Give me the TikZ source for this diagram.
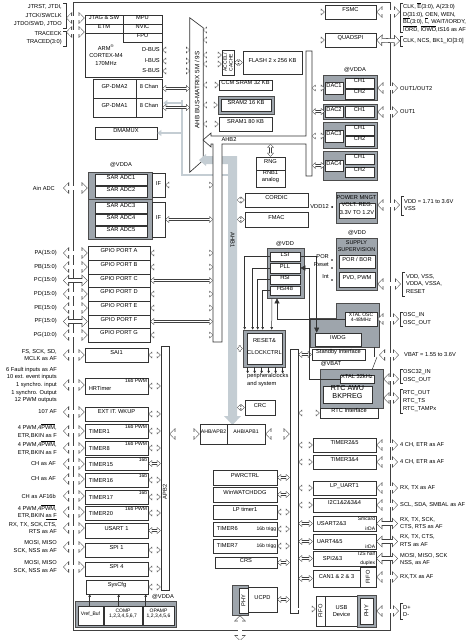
\documentclass[tikz,border=0pt]{standalone}
\usepackage{fontspec}
\setmainfont{Liberation Sans}
\usetikzlibrary{arrows.meta, fit}

\definecolor{contgray}{RGB}{158,165,172}
\definecolor{busgray}{RGB}{196,205,211}
\newcommand{\fsz}{\fontsize{5.7}{7.6}\selectfont}
\newcommand{\fss}{\fontsize{5}{5.6}\selectfont}
\newcommand{\ovl}[1]{$\overline{\mbox{#1}}$}

\tikzset{
  box/.style={draw=black!80, fill=white, line width=0.65pt, inner sep=0pt, align=center},
  gbox/.style={draw=black!70, fill=contgray, line width=0.7pt, inner sep=0pt},
  lbl/.style={inner sep=0pt, align=right, anchor=east},
  rlbl/.style={inner sep=0pt, align=left, anchor=west},
  bigarr/.style={draw=white, line width=3.3pt,
    {Triangle[length=4.3pt, width=9pt]}-{Triangle[length=4.3pt, width=9pt]},
    shorten <=0.9pt, shorten >=0.9pt,
    preaction={draw=black!75, line width=4.5pt, shorten <=0pt, shorten >=0pt,
      {Triangle[length=6pt, width=11.5pt]}-{Triangle[length=6pt, width=11.5pt]}}},
  smarr/.style={draw=white, line width=1.9pt,
    {Triangle[length=2.6pt, width=4.8pt]}-{Triangle[length=2.6pt, width=4.8pt]},
    shorten <=0.7pt, shorten >=0.7pt,
    preaction={draw=black!75, line width=2.9pt, shorten <=0pt, shorten >=0pt,
      {Triangle[length=3.7pt, width=6.6pt]}-{Triangle[length=3.7pt, width=6.6pt]}}},
  smto/.style={draw=white, line width=1.9pt, -{Triangle[length=2.6pt, width=4.8pt]},
    shorten >=0.7pt,
    preaction={draw=black!75, line width=2.9pt, shorten >=0pt,
      -{Triangle[length=3.7pt, width=6.6pt]}}},
  gline/.style={draw=busgray, line width=2.4pt},
  clk/.style={draw=black!80, line width=0.5pt, -{Triangle[length=2.5pt, width=2.5pt]}},
  fat/.style={draw=black!80, line width=0.5pt, -{Triangle[length=5pt, width=5pt]}},
  brk/.style={draw=black!80, line width=0.5pt},
  nm/.style={anchor=west, inner sep=0pt, xshift=4pt},
  tgr/.style={anchor=north east, inner sep=1pt, font=\fss},
  tgb/.style={anchor=south east, inner sep=1pt, font=\fss},
  tge/.style={anchor=east, inner sep=1pt, font=\fss}
}

\begin{document}
\begin{tikzpicture}[x=1pt, y=-1pt, font=\fsz]
    \useasboundingbox (0,0) rectangle (474,640);

    % Frame
    \draw[black!75, line width=0.7pt] (73,2) rectangle (390,630);

    % Core
    \node[box, fit={(85,15) (162,77)}] (cpu) {};
    \node[box, fit={(85,15) (123,24)}] (jtag) {JTAG \& SW};
    \node[box, fit={(85,24) (123,33)}] (etm) {ETM};
    \node[box, fit={(123,15) (162,24)}] (mpu) {MPU};
    \node[box, fit={(123,24) (162,33)}] (nvic) {NVIC};
    \node[box, fit={(123,33) (162,42)}] (fpu) {FPU};
    \node[align=center, inner sep=0pt] (arm) at (106,55) {ARM\textsuperscript{\textregistered}\\CORTEX-M4\\170MHz};
    \node[lbl] (dbus) at (160,50) {D-BUS};
    \node[lbl] (ibus) at (160,61) {I-BUS};
    \node[lbl] (sbus) at (160,71) {S-BUS};

    % JTAG pins
    \node[lbl] (jt1) at (62,7) {JTRST, JTDI,};
    \node[lbl] (jt2) at (62,15) {JTCK/SWCLK};
    \node[lbl] (jt3) at (62,24) {JTDO/SWD, JTDO};
    \node[lbl] (jt4) at (62,34) {TRACECK};
    \node[lbl] (jt5) at (62,42) {TRACED(3:0)};
    \draw[brk] (63,3) -- (66,3) -- (66,28) -- (63,28);
    \draw[brk] (63,31) -- (66,31) -- (66,46) -- (63,46);
    \coordinate (jtagio) at (66,18);
    \coordinate (traceio) at (66,32);

    % DMA
    \node[box, fit={(93,79) (136,98)}] (dma2) {GP-DMA2};
    \node[box, fit={(136,79) (162,98)}] (chan2) {8 Chan};
    \node[box, fit={(93,98) (136,117)}] (dma1) {GP-DMA1};
    \node[box, fit={(136,98) (162,117)}] (chan1) {8 Chan};
    \node[box, fit={(95,127) (157,139)}] (dmamux) {DMAMUX};

    % Bus matrix
    \node[fit={(190,18) (203,172)}, inner sep=0pt] (mtx) {};
    \draw[black!80, fill=white, line width=0.65pt] (mtx.north west) -- ([yshift=-10pt]mtx.north east) -- ([yshift=12pt]mtx.south east) -- (mtx.south west) -- cycle;
    \node[rotate=90, inner sep=0pt, font=\fontsize{6.3}{7}\selectfont] at (197,90) {AHB BUS-MATRIX 5M / 9S};

    % AHB1 (gray)
    \draw[gline] (182,100) -- (182,175) -- (229,175);
    \draw[gline, -{Triangle[length=4pt, width=6pt]}] (182,133) -- (dmamux.east);
    \draw[gline, -{Triangle[length=4pt, width=6pt]}] (182,103) -- ([xshift=1pt]chan1.east |- 0,103);
    \fill[busgray] (199,160) -- (206,154) -- (206,156) -- (237,156) -- (237,416) -- (241,416) -- (232.5,425) -- (224,416) -- (228,416) -- (228,164) -- (206,164) -- (206,166) -- cycle;
    \node[rotate=-90, inner sep=0pt] at (232.5,240) {AHB1};

    % AHB2 (hollow)
    \draw[black!80, fill=white, line width=0.65pt] (203,140) -- (211,133) -- (211,136) -- (306,136) -- (306,51) -- (312,51) -- (312,176) -- (306,176) -- (306,144) -- (222,144) -- (222,342) -- (213,342) -- (213,144) -- (211,144) -- (211,147) -- cycle;
    \node[inner sep=0pt] at (229,140) {AHB2};
    \coordinate (ahb2v) at (213,250);
    \coordinate (ahb2r) at (312,100);
    \coordinate (ahb2h) at (270.5,144);
    \coordinate (ahb1) at (237,300);

    % Core buses
    \draw[smarr] (cpu.east |- dbus) -- (mtx.west |- dbus);
    \draw[smarr] (cpu.east |- ibus) -- (mtx.west |- ibus);
    \draw[smarr] (cpu.east |- sbus) -- (mtx.west |- sbus);
    \draw[smarr] (chan2.east) -- (mtx.west |- chan2.east);
    \draw[smarr] (chan1.east) -- (mtx.west |- chan1.east);

    % Memories
    \node[box, fit={(325,5) (376,19)}] (fsmc) {FSMC};
    \node[box, fit={(325,33) (376,47)}] (qspi) {QUADSPI};
    \draw[smarr] (mtx.east |- 0,30) -- (283,30) -- (283,12) -- (fsmc.west |- 0,12);
    \draw[smarr] (mtx.east |- qspi) -- (qspi.west);
    \node[box, fit={(222,50) (234,75)}] (cache) {};
    \node[rotate=90, align=center, inner sep=0pt, font=\fss] at (cache) {ACCEL/\\CACHE};
    \node[box, fit={(243,51) (302,74)}] (flash) {FLASH 2 x 256 KB};
    \draw[smarr] (cache.east) -- (flash.west);
    \draw[smarr] (mtx.east |- 0,55) -- (cache.west |- 0,55);
    \draw[smarr] (mtx.east |- 0,64) -- (cache.west |- 0,64);
    \node[box, fit={(219,80) (272,90)}] (ccm) {CCM SRAM 32 KB};
    \draw[smarr] (mtx.east |- ccm) -- (ccm.west);
    \node[gbox, fit={(218,96) (274,114)}] (sram2c) {};
    \node[box, fit={(221,99) (271,111)}] (sram2) {SRAM2 16 KB};
    \draw[smarr] (mtx.east |- sram2c) -- (sram2c.west);
    \node[box, fit={(219,117) (272,131)}] (sram1) {SRAM1 80 KB};
    \draw[smarr] (mtx.east |- sram1) -- (sram1.west);

    % RNG
    \node[box, fit={(256,157) (285,170)}] (rng) {RNG};
    \node[box, fit={(256,170) (285,187)}] (rnga) {RNB1\\analog};
    \draw[smarr] (ahb2h) -- (rng.north);

    % DACs
    \node[inner sep=0pt] at (355,70) {@VDDA};
    \node[gbox, fit={(323,75) (377,100)}] (dac1c) {};
    \node[box, fit={(325,82) (343,94)}] (dac1) {DAC1};
    \node[box, fit={(345,78) (374,88)}] (d1ch1) {CH1};
    \node[box, fit={(345,89) (374,99)}] (d1ch2) {CH2};
    \node[gbox, fit={(323,104) (377,119)}] (dac2c) {};
    \node[box, fit={(325,106) (343,117)}] (dac2) {DAC2};
    \node[box, fit={(345,106) (374,117)}] (d2ch1) {CH1};
    \node[gbox, fit={(323,122) (377,148)}] (dac3c) {};
    \node[box, fit={(325,130) (343,142)}] (dac3) {DAC3};
    \node[box, fit={(345,125) (374,135)}] (d3ch1) {CH1};
    \node[box, fit={(345,136) (374,146)}] (d3ch2) {CH2};
    \node[gbox, fit={(323,151) (377,180)}] (dac4c) {};
    \node[box, fit={(325,160) (343,171)}] (dac4) {DAC4};
    \node[box, fit={(345,154) (374,164)}] (d4ch1) {CH1};
    \node[box, fit={(345,167) (374,177)}] (d4ch2) {CH2};
    \draw[smarr] (ahb2r |- dac1) -- (dac1.west);
    \draw[smarr] (ahb2r |- dac2) -- (dac2.west);
    \draw[smarr] (ahb2r |- dac3) -- (dac3.west);
    \draw[smarr] (ahb2r |- dac4) -- (dac4.west);
    \node[rlbl] (out12) at (400,88) {OUT1/OUT2};
    \node[rlbl] (out1) at (400,112) {OUT1};
    \draw[bigarr] (dac1c.east |- out12) -- ([xshift=-2pt]out12.west);
    \draw[bigarr] (dac2c.east |- out1) -- ([xshift=-2pt]out1.west);

    % CORDIC, FMAC, CRC
    \node[box, fit={(245,193) (308,207)}] (cordic) {CORDIC};
    \node[box, fit={(245,212) (308,227)}] (fmac) {FMAC};
    \node[box, fit={(245,400) (275,415)}] (crc) {CRC};
    \draw[smarr] (ahb1 |- cordic) -- (cordic.west);
    \draw[smarr] (ahb1 |- fmac) -- (fmac.west);
    \draw[smarr] (ahb1 |- crc) -- (crc.west);

    % ADC
    \node[inner sep=0pt] at (121,165) {@VDDA};
    \node[gbox, fit={(88,172) (152,199)}] (adc12c) {};
    \node[box, fit={(95,174) (147,185)}] (adc1) {SAR ADC1};
    \node[box, fit={(95,186) (147,197)}] (adc2) {SAR ADC2};
    \node[box, fit={(152,173) (165,197)}] (if1) {IF};
    \node[gbox, fit={(88,199) (152,239)}] (adc35c) {};
    \node[box, fit={(95,202) (147,213)}] (adc3) {SAR ADC3};
    \node[box, fit={(95,214) (147,225)}] (adc4) {SAR ADC4};
    \node[box, fit={(95,226) (147,237)}] (adc5) {SAR ADC5};
    \node[box, fit={(152,202) (165,237)}] (if2) {IF};
    \draw[smarr] (if1.east) -- (ahb2v |- if1.east);
    \draw[smarr] (if2.east) -- (ahb2v |- if2.east);
    \node[lbl] (ain) at (55,188) {Ain ADC};
    \draw[bigarr] ([xshift=8pt]ain.east) -- (adc12c.west |- ain.east);

    % GPIO
    \node[box, fit={(88,246) (150,260)}] (gpa) {GPIO PORT A};
    \node[box, fit={(88,260) (150,274)}] (gpb) {GPIO PORT B};
    \node[box, fit={(88,274) (150,287)}] (gpc) {GPIO PORT C};
    \node[box, fit={(88,287) (150,301)}] (gpd) {GPIO PORT D};
    \node[box, fit={(88,301) (150,315)}] (gpe) {GPIO PORT E};
    \node[box, fit={(88,315) (150,328)}] (gpf) {GPIO PORT F};
    \node[box, fit={(88,328) (150,342)}] (gpg) {GPIO PORT G};
    \node[lbl] (pa) at (57,253) {PA(15:0)};
    \node[lbl] (pb) at (57,267) {PB(15:0)};
    \node[lbl] (pc) at (57,280.5) {PC(15:0)};
    \node[lbl] (pd) at (57,294) {PD(15:0)};
    \node[lbl] (pe) at (57,308) {PE(15:0)};
    \node[lbl] (pf) at (57,321.5) {PF(15:0)};
    \node[lbl] (pg) at (57,335) {PG(10:0)};
    \draw[bigarr] ([xshift=6pt]pa.east) -- (gpa.west);
    \draw[bigarr] ([xshift=6pt]pb.east) -- (gpb.west);
    \draw[bigarr] ([xshift=6pt]pc.east) -- (gpc.west);
    \draw[bigarr] ([xshift=6pt]pd.east) -- (gpd.west);
    \draw[bigarr] ([xshift=6pt]pe.east) -- (gpe.west);
    \draw[bigarr] ([xshift=6pt]pf.east) -- (gpf.west);
    \draw[bigarr] ([xshift=6pt]pg.east) -- (gpg.west);
    \draw[smarr] (gpa.east) -- (ahb2v |- gpa.east);
    \draw[smarr] (gpb.east) -- (ahb2v |- gpb.east);
    \draw[smarr] (gpc.east) -- (ahb2v |- gpc.east);
    \draw[smarr] (gpd.east) -- (ahb2v |- gpd.east);
    \draw[smarr] (gpe.east) -- (ahb2v |- gpe.east);
    \draw[smarr] (gpf.east) -- (ahb2v |- gpf.east);
    \draw[smarr] (gpg.east) -- (ahb2v |- gpg.east);

    % APB2 peripherals
    \node[box, fit={(161,346) (169,590)}] (apb2) {};
    \node[rotate=90, inner sep=0pt] at (165,492) {APB2};
    \node[box, fit={(85,348) (148,362)}] (sai) {SAI1};
    \node[box, fit={(85,378) (148,394)}, label={[nm, yshift=-2pt]west:HRTimer}, label={[tgr]north east:16b PWM}] (hrt) {};
    \node[box, fit={(85,407) (148,421)}] (exti) {EXT IT. WKUP};
    \node[box, fit={(85,424) (148,438)}, label={[nm, yshift=-1pt]west:TIMER1}, label={[tgr]north east:16b PWM}] (tim1) {};
    \node[box, fit={(85,441) (148,455)}, label={[nm, yshift=-1pt]west:TIMER8}, label={[tgr]north east:16b PWM}] (tim8) {};
    \node[box, fit={(85,457) (148,470)}, label={[nm, yshift=-1pt]west:TIMER15}, label={[tgr]north east:16b}] (tim15) {};
    \node[box, fit={(85,473) (148,487)}, label={[nm, yshift=-1pt]west:TIMER16}, label={[tgr]north east:16b}] (tim16) {};
    \node[box, fit={(85,490) (148,504)}, label={[nm, yshift=-1pt]west:TIMER17}, label={[tgr]north east:16b}] (tim17) {};
    \node[box, fit={(85,506) (148,520)}, label={[nm, yshift=-1pt]west:TIMER20}, label={[tgr]north east:16b PWM}] (tim20) {};
    \node[box, fit={(85,523) (148,538)}] (usart1) {USART 1};
    \node[box, fit={(85,543) (148,557)}] (spi1) {SPI 1};
    \node[box, fit={(85,562) (148,576)}] (spi4) {SPI 4};
    \node[box, fit={(86,580) (148,594)}] (syscfg) {SysCfg};
    \draw[smarr] (sai.east) -- (apb2.west |- sai.east);
    \draw[smarr] (hrt.east) -- (apb2.west |- hrt.east);
    \draw[smarr] (exti.east) -- (apb2.west |- exti.east);
    \draw[smarr] (tim1.east) -- (apb2.west |- tim1.east);
    \draw[smarr] (tim8.east) -- (apb2.west |- tim8.east);
    \draw[smarr] (tim15.east) -- (apb2.west |- tim15.east);
    \draw[smarr] (tim16.east) -- (apb2.west |- tim16.east);
    \draw[smarr] (tim17.east) -- (apb2.west |- tim17.east);
    \draw[smarr] (tim20.east) -- (apb2.west |- tim20.east);
    \draw[smarr] (usart1.east) -- (apb2.west |- usart1.east);
    \draw[smarr] (spi1.east) -- (apb2.west |- spi1.east);
    \draw[smarr] (spi4.east) -- (apb2.west |- spi4.east);
    \draw[smarr] (syscfg.east) -- (apb2.west |- syscfg.east);

    \node[lbl] (lsai) at (57,355) {FS, SCK, SD,\\MCLK as AF};
    \node[lbl] (lhrt) at (57,385) {6 Fault inputs as AF\\10 ext. event inputs\\1 synchro. input\\1 synchro. Output\\12 PWM outputs};
    \node[lbl] (lexti) at (57,412) {107 AF};
    \node[lbl] (ltim1) at (57,431) {4 PWM,4\ovl{PWM},\\ETR,BKIN as F};
    \node[lbl] (ltim8) at (57,448) {4 PWM,4\ovl{PWM},\\ETR,BKIN as F};
    \node[lbl] (ltim15) at (56,464) {CH as AF};
    \node[lbl] (ltim16) at (56,479) {CH as AF};
    \node[lbl] (ltim17) at (56,496) {CH as AF16b};
    \node[lbl] (ltim20) at (57,512) {4 PWM,4\ovl{PWM},\\ETR,BKIN \underline{as F}};
    \node[lbl] (lus1) at (57,528) {RX, TX, SCK,CTS,\\RTS as AF};
    \node[lbl] (lspi1) at (57,547) {MOSI, MISO\\SCK, NSS as AF};
    \node[lbl] (lspi4) at (57,567) {MOSI, MISO\\SCK, NSS as AF};
    \draw[bigarr] ([xshift=6pt]lsai.east) -- (sai.west |- lsai.east);
    \draw[bigarr] ([xshift=6pt]lhrt.east) -- (hrt.west |- lhrt.east);
    \draw[bigarr] ([xshift=6pt]lexti.east) -- (exti.west |- lexti.east);
    \draw[bigarr] ([xshift=6pt]ltim1.east) -- (tim1.west |- ltim1.east);
    \draw[bigarr] ([xshift=6pt]ltim8.east) -- (tim8.west |- ltim8.east);
    \draw[bigarr] ([xshift=7pt]ltim15.east) -- (tim15.west |- ltim15.east);
    \draw[bigarr] ([xshift=7pt]ltim16.east) -- (tim16.west |- ltim16.east);
    \draw[bigarr] ([xshift=7pt]ltim17.east) -- (tim17.west |- ltim17.east);
    \draw[bigarr] ([xshift=6pt]ltim20.east) -- (tim20.west |- ltim20.east);
    \draw[bigarr] ([xshift=6pt]lus1.east) -- (usart1.west |- lus1.east);
    \draw[bigarr] ([xshift=6pt]lspi1.east) -- (spi1.west |- lspi1.east);
    \draw[bigarr] ([xshift=6pt]lspi4.east) -- (spi4.west |- lspi4.east);
    \draw[bigarr] (jtagio) -- (cpu.west |- jtagio);
    \draw[bigarr] (traceio) -- (cpu.west |- traceio);

    % Analog at bottom
    \node[inner sep=0pt] at (163,597) {@VDDA};
    \node[gbox, fit={(75,601) (176,627)}] (anac) {};
    \node[box, fit={(78,606) (103,625)}, font=\fss] (vref) {Vref\_Buf};
    \node[box, fit={(104,606) (142,625)}, font=\fss] (comp) {COMP\\1,2,3,4,5,6,7};
    \node[box, fit={(143,606) (174,625)}, font=\fss] (opamp) {OPAMP\\1,2,3,4,5,6};
    \draw[clk, {Triangle[length=2.5pt, width=2.5pt]}-] ([xshift=4pt]syscfg.south west) -- ([xshift=4pt]syscfg.south west |- vref.north);
    \draw[clk, {Triangle[length=2.5pt, width=2.5pt]}-] ([xshift=33pt]syscfg.south west) -- ([xshift=33pt]syscfg.south west |- comp.north);
    \draw[clk, {Triangle[length=2.5pt, width=2.5pt]}-] ([xshift=60pt]syscfg.south west) -- ([xshift=60pt]syscfg.south west |- opamp.north);

    % AHB to APB bridges
    \node[box, fit={(200,424) (227,444)}, font=\fontsize{5.2}{6}\selectfont] (ahbapb2) {AHB/APB2};
    \node[box, fit={(227,424) (265,444)}, font=\fontsize{5.2}{6}\selectfont] (ahbapb1) {AHB/APB1};
    \node[box, fit={(290,349) (298,613)}] (apb1) {};
    \draw[bigarr] (apb2.east |- ahbapb2) -- (ahbapb2.west);
    \draw[bigarr] (ahbapb1.east) -- (apb1.west |- ahbapb1);

    % Clocks
    \node[inner sep=0pt] at (285,244) {@VDD};
    \node[gbox, fit={(267,248) (304,298)}] (clkc) {};
    \node[box, fit={(270,252) (300,261)}] (lsi) {LSI};
    \node[box, fit={(270,263) (300,273)}] (pll) {PLL};
    \node[box, fit={(270,275) (300,284)}] (hsi) {HSI};
    \node[box, fit={(270,286) (300,295)}] (hsi48) {HSI48};
    \node[gbox, fit={(243,330) (285,367)}] (rstc) {};
    \node[box, fit={(247,333) (282,364)}] (rst) {RESET\&\\[5pt]CLOCKCTRL};
    \draw[smarr] (ahb1 |- rstc) -- (rstc.west);
    \draw[clk] (lsi.west) -| ([xshift=2pt]rstc.north west);
    \draw[clk] (pll.west) -| ([xshift=10pt]rstc.north west);
    \draw[clk] (hsi.west) -| ([xshift=15pt]rstc.north west);
    \draw[clk] (hsi48.west) -| ([xshift=20pt]rstc.north west);
    \draw[clk] ([xshift=-13.5pt]clkc.south) -- ([xshift=29pt]rstc.north west);
    \foreach \i in {0,...,5}
        \draw[clk] ([xshift={5pt+7pt*\i}]rstc.south west) -- ++(0,6);
    \node[rlbl] (perclk) at (247,380) {peripheralclocks\\and system};

    % XTAL OSC, IWDG, standby
    \draw[black!70, fill=contgray, line width=0.7pt] (336,303) -- (379,303) -- (379,347) -- (310,347) -- (310,318) -- (336,318) -- cycle;
    \node[box, fit={(345,312) (377,326)}, font=\fss] (xosc) {XTAL OSC\\4-48MHz};
    \node[box, fit={(315,333) (361,346)}] (iwdg) {IWDG};
    \node[box, fit={(312,349) (365,360)}] (stby) {Standby Interface};
    \draw[fat] (xosc.west) -| ([xshift=-8.5pt]clkc.south);
    \draw[fat] (lsi.east) -| ([xshift=2pt]iwdg.north west);
    \draw[smarr] (apb1.east |- stby) -- (stby.west);
    \draw[brk] (374,347) -- (374,357);
    \draw[brk] (377,357) -- (372,370);

    % RTC
    \node[inner sep=0pt] at (331,364) {@VBAT};
    \node[gbox, fit={(320,369) (383,408)}] (rtcc) {};
    \node[box, fit={(340,375) (374,383)}] (xtal32) {XTAL 32kHz};
    \node[box, fit={(323,386) (372,403)}, font=\fontsize{7.2}{8.4}\selectfont] (rtc) {RTC AWU\\BKPREG};
    \node[box, fit={(320,408) (378,418)}] (rtcif) {RTC Interface};
    \draw[smarr] (apb1.east |- rtcif) -- (rtcif.west);
    \draw[fat] (xtal32.west) -| ([xshift=9pt]pll.east) -- (pll.east);

    % Power
    \node[gbox, fit={(336,192) (377,223)}] (pwrc) {};
    \node[inner sep=0pt] at (356.5,197.5) {POWER MNGT};
    \node[box, fit={(339,203) (375,218)}] (vreg) {VOLT. REG.\\3.3V TO 1.2V};
    \node[lbl] (vdd12) at (329,207) {VDD12};
    \fill (332,207) circle (1pt);
    \node[inner sep=0pt] at (357,233) {@VDD};
    \node[gbox, fit={(336,238) (377,290)}] (supc) {};
    \node[align=center, inner sep=0pt, font=\fontsize{5.5}{6.6}\selectfont] at (356.5,246) {SUPPLY\\SUPERVISION};
    \node[box, fit={(339,255) (375,268)}] (por) {POR / BOR};
    \node[box, fit={(339,272) (375,287)}] (pvd) {PVD, PWM};
    \node[lbl] (lpor) at (329,257) {POR};
    \node[lbl] (lrst) at (329,265) {Reset};
    \node[lbl] (lint) at (329,277) {Int};
    \fill (332,260) circle (0.9pt);
    \fill (332,268) circle (0.9pt);
    \fill (332,280) circle (0.9pt);

    % APB1 peripherals, left side
    \node[box, fit={(213,470) (277,485)}] (pwr) {PWRCTRL};
    \node[box, fit={(213,487) (277,502)}] (wwdg) {WinWATCHDOG};
    \node[box, fit={(213,505) (277,519)}] (lptim) {LP timer1};
    \node[box, fit={(213,522) (277,536)}, label={[nm]west:TIMER6}, label={[tge]east:16b trigg}] (tim6) {};
    \node[box, fit={(213,539) (277,553)}, label={[nm]west:TIMER7}, label={[tge]east:16b trigg}] (tim7) {};
    \node[box, fit={(215,557) (277,568)}] (crs) {CRS};
    \node[gbox, fit={(232,585) (248,615)}] (phyc) {};
    \node[box, fit={(239,588) (248,613)}] (phy) {};
    \node[rotate=90, inner sep=0pt] at (phy) {PHY};
    \node[box, fit={(248,587) (277,612)}] (ucpd) {UCPD};
    \draw[smarr] (pwr.east) -- (apb1.west |- pwr.east);
    \draw[smarr] (wwdg.east) -- (apb1.west |- wwdg.east);
    \draw[smarr] (lptim.east) -- (apb1.west |- lptim.east);
    \draw[smarr] (tim6.east) -- (apb1.west |- tim6.east);
    \draw[smarr] (tim7.east) -- (apb1.west |- tim7.east);
    \draw[smarr] (crs.east) -- (apb1.west |- crs.east);
    \draw[smarr] (ucpd.east) -- (apb1.west |- ucpd.east);
    \draw[bigarr] (phyc.south) -- (phyc.south |- 0,641);

    % APB1 peripherals, right side
    \node[box, fit={(313,438) (376,452)}] (tim25) {TIMER2\&5};
    \node[box, fit={(313,455) (376,469)}] (tim34) {TIMER3\&4};
    \node[box, fit={(313,481) (376,495)}] (lpuart) {LP\_UART1};
    \node[box, fit={(313,498) (376,512)}] (i2c) {I2C1\&2\&3\&4};
    \node[box, fit={(313,516) (376,531)}, label={[nm]west:USART2\&3}, label={[tgr]north east:Smcard}, label={[tgb]south east:irDA}] (usart23) {};
    \node[box, fit={(313,534) (376,549)}, label={[nm]west:UART4\&5}, label={[tgb]south east:irDA}] (uart45) {};
    \node[box, fit={(313,551) (376,566)}, label={[nm, xshift=6pt]west:SPI2\&3}, label={[tgr]north east:I2S half}, label={[tgb]south east:duplex}] (spi23) {};
    \node[box, fit={(313,570) (360,587)}] (can) {CAN1 \& 2 \& 3};
    \node[box, fit={(360,567) (376,587)}] (canfifo) {};
    \node[rotate=90, inner sep=0pt] at (canfifo) {FIFO};
    \draw[smarr] (apb1.east |- tim25) -- (tim25.west);
    \draw[smarr] (apb1.east |- tim34) -- (tim34.west);
    \draw[smarr] (apb1.east |- lpuart) -- (lpuart.west);
    \draw[smarr] (apb1.east |- i2c) -- (i2c.west);
    \draw[smarr] (apb1.east |- usart23) -- (usart23.west);
    \draw[smarr] (apb1.east |- uart45) -- (uart45.west);
    \draw[smarr] (apb1.east |- spi23) -- (spi23.west);
    \draw[smarr] (apb1.east |- can) -- (can.west);

    % USB
    \node[box, fit={(316,596) (376,626)}] (usb) {};
    \node[box, fit={(316,596) (325,626)}] (usbfifo) {};
    \node[rotate=90, inner sep=0pt] at (usbfifo) {FIFO};
    \node[align=center, inner sep=0pt] at (341.5,611) {USB\\Device};
    \node[gbox, fit={(357,595) (376,627)}] (usbphyc) {};
    \node[box, fit={(360,598) (373,624)}] (usbphy) {};
    \node[rotate=90, inner sep=0pt] at (usbphy) {PHY};
    \draw[smto] (apb1.east |- 0,609) -- (usbfifo.west |- 0,609);

    % Pins, right side
    \node[rlbl] (fsmcio) at (403,17.5) {CLK, \ovl{E}(3:0), A(23:0)\\D(31:0), OEN, WEN,\\\ovl{BL}(3:0), \ovl{L}, WAIT/IORDY,\\\ovl{IORD}, \ovl{IOWD},IS16 as AF};
    \draw[brk] (403,3) -- (400,3) -- (400,32) -- (403,32);
    \draw[bigarr] (fsmc.east) -- ([xshift=-3pt]fsmcio.west |- fsmc.east);
    \node[rlbl] (qspiio) at (403,41) {CLK, NCS, BK1\_IO[3:0]};
    \draw[brk] (403,36) -- (400,36) -- (400,46) -- (403,46);
    \draw[bigarr] (qspi.east) -- ([xshift=-3pt]qspiio.west);
    \node[rlbl] (pwrio) at (404,205) {VDD = 1.71 to 3.6V\\VSS};
    \draw[brk] (404,196) -- (401,196) -- (401,215) -- (404,215);
    \draw[bigarr] (pwrc.east |- pwrio) -- ([xshift=-4pt]pwrio.west);
    \node[rlbl] (supio) at (406,284) {VDD, VSS,\\VDDA, VSSA,\\RESET};
    \draw[brk] (405,272) -- (402,272) -- (402,296) -- (405,296);
    \draw[bigarr] (supc.east |- supio) -- ([xshift=-5pt]supio.west);
    \node[rlbl] (oscio) at (403,319) {OSC\_IN\\OSC\_OUT};
    \draw[brk] (403,312) -- (400,312) -- (400,326) -- (403,326);
    \draw[bigarr] (xosc.east) -- ([xshift=-4pt]oscio.west |- xosc.east);
    \node[rlbl] (vbat) at (404,355) {VBAT = 1.55 to 3.6V};
    \coordinate (vbatsw) at (379,355);
    \draw[bigarr] (vbatsw) -- ([xshift=-5pt]vbat.west);
    \node[rlbl] (osc32io) at (403,376) {OSC32\_IN\\OSC\_OUT};
    \draw[brk] (403,369) -- (400,369) -- (400,383) -- (403,383);
    \draw[bigarr] (rtcc.east |- xtal32) -- ([xshift=-4pt]osc32io.west |- xtal32);
    \node[rlbl] (rtcio) at (403,401) {RTC\_OUT\\RTC\_TS\\RTC\_TAMPx};
    \draw[brk] (403,389) -- (400,389) -- (400,413) -- (403,413);
    \draw[bigarr] (rtcc.east |- 0,398) -- ([xshift=-4pt]rtcio.west |- 0,398);
    \node[rlbl] (t25io) at (400,445) {4 CH, ETR as AF};
    \node[rlbl] (t34io) at (400,462) {4 CH, ETR as AF};
    \node[rlbl] (lpuio) at (400,488) {RX, TX as AF};
    \node[rlbl] (i2cio) at (400,505) {SCL, SDA, SMBAL as AF};
    \node[rlbl] (us23io) at (400,523.5) {RX, TX, SCK,\\CTS, RTS as AF};
    \node[rlbl] (ua45io) at (400,540.5) {RX, TX, CTS,\\RTS as AF};
    \node[rlbl] (spi23io) at (400,559.5) {MOSI, MISO, SCK\\NSS, as AF};
    \node[rlbl] (canio) at (400,577) {RX,TX as AF};
    \draw[bigarr] (tim25.east) -- ([xshift=-2pt]t25io.west);
    \draw[bigarr] (tim34.east) -- ([xshift=-2pt]t34io.west);
    \draw[bigarr] (lpuart.east) -- ([xshift=-2pt]lpuio.west);
    \draw[bigarr] (i2c.east) -- ([xshift=-2pt]i2cio.west);
    \draw[bigarr] (usart23.east) -- ([xshift=-2pt]us23io.west |- usart23.east);
    \draw[bigarr] (uart45.east) -- ([xshift=-2pt]ua45io.west |- uart45.east);
    \draw[bigarr] (spi23.east) -- ([xshift=-2pt]spi23io.west |- spi23.east);
    \draw[bigarr] (canfifo.east |- canio) -- ([xshift=-2pt]canio.west);
    \node[rlbl] (usbio) at (403,611) {D+\\D-};
    \draw[brk] (403,603) -- (400,603) -- (400,619) -- (403,619);
    \draw[bigarr] (usbphyc.east |- usbio) -- ([xshift=-4pt]usbio.west);

\end{tikzpicture}
\end{document}
